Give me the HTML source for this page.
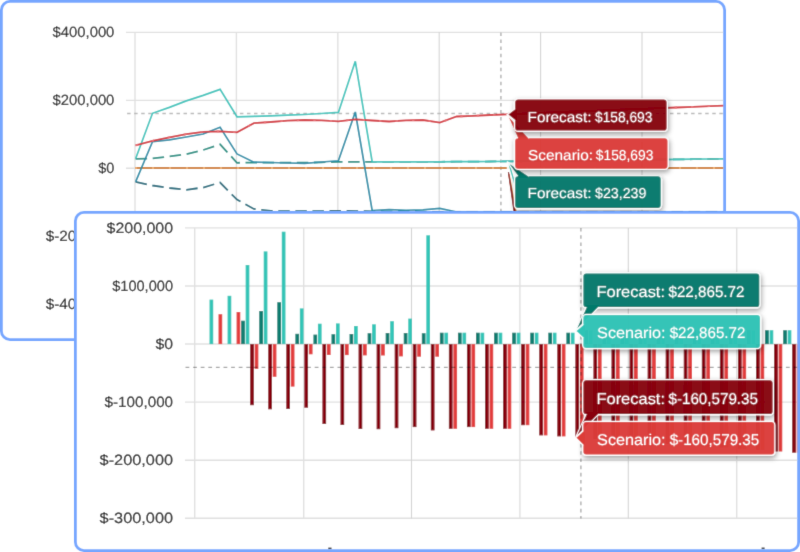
<!DOCTYPE html>
<html lang="en">
<head>
<meta charset="utf-8">
<title>Forecast vs Scenario</title>
<style>
html,body{margin:0;padding:0;background:#fff;}
body{width:800px;height:552px;position:relative;overflow:hidden;font-family:"Liberation Sans",sans-serif;}
.card{position:absolute;left:0;top:0;width:800px;height:552px;}
.card svg{position:absolute;left:0;top:0;display:block;}
text{font-family:"Liberation Sans",sans-serif;text-rendering:geometricPrecision;}
.tt text{fill:#fff;stroke:#fff;stroke-width:.1px;}
</style>
</head>
<body>

<div class="card" id="card1">
<svg width="800" height="552" viewBox="0 0 800 552">
<defs>
<clipPath id="card1-clip"><rect x="2.8" y="2.8" width="720.4" height="335.4" rx="7.2"/></clipPath>
<filter id="card1-sh" x="-20%" y="-40%" width="140%" height="200%"><feDropShadow dx="0.8" dy="2.2" stdDeviation="2.6" flood-color="#000" flood-opacity=".4"/></filter>
<filter id="card1-bl" x="0" y="0" width="800" height="552" filterUnits="userSpaceOnUse"><feConvolveMatrix order="3" kernelMatrix="0.0113 0.0838 0.0113 0.0838 0.6193 0.0838 0.0113 0.0838 0.0113" edgeMode="duplicate" preserveAlpha="false"/></filter>
</defs>
<g filter="url(#card1-bl)">
<rect x="1.4" y="1.4" width="723.2" height="338.2" rx="8.6" fill="#fff" stroke="#76a6ff" stroke-width="2.8"/>
<g clip-path="url(#card1-clip)">
<g stroke="#e0e0e0" stroke-width="1.4" fill="none">
<line x1="126" y1="32.4" x2="726" y2="32.4"/>
<line x1="126" y1="100.4" x2="726" y2="100.4"/>
<line x1="126" y1="168.2" x2="726" y2="168.2"/>
<line x1="126" y1="236.2" x2="726" y2="236.2"/>
<line x1="126" y1="304.2" x2="726" y2="304.2"/>
<line x1="135" y1="32" x2="135" y2="341"/>
<line x1="236.4" y1="32" x2="236.4" y2="341"/>
<line x1="337.8" y1="32" x2="337.8" y2="341"/>
<line x1="439.2" y1="32" x2="439.2" y2="341" stroke="#d4d4d4" stroke-width="1.1"/>
<line x1="540.6" y1="32" x2="540.6" y2="341" stroke="#d4d4d4" stroke-width="1.1"/>
<line x1="642" y1="32" x2="642" y2="341" stroke="#d4d4d4" stroke-width="1.1"/>
</g>
<g fill="#222" stroke="#222" stroke-width=".15">
<text transform="translate(52.54 37) scale(1.0018 1.0000)" font-size="14.8" xml:space="preserve">$400,000</text>
<text transform="translate(52.54 105) scale(1.0018 1.0000)" font-size="14.8" xml:space="preserve">$200,000</text>
<text transform="translate(98.24 172.8) scale(0.9793 1.0000)" font-size="14.8" xml:space="preserve">$0</text>
<text transform="translate(45.64 240.8) scale(1.0315 1.0000)" font-size="14.8" xml:space="preserve">$-200,000</text>
<text transform="translate(45.64 308.8) scale(1.0315 1.0000)" font-size="14.8" xml:space="preserve">$-400,000</text>
</g>
<g stroke="#b9b9b9" stroke-width="1.6" fill="none" stroke-dasharray="3.5 3.55">
<line x1="127.1" y1="113.5" x2="726" y2="113.5"/>
<line x1="500.9" y1="32.5" x2="500.9" y2="341"/>
</g>
<path d="M135 168.1 L726 168.1" fill="none" stroke="#d1832f" stroke-width="2"/>
<path d="M135 168.1 L726 168.1" fill="none" stroke="#eaa860" stroke-width="2" stroke-dasharray="2 15"/>
<g fill="none" stroke-linejoin="miter" stroke-linecap="butt">
<path d="M135.6 181.8 L152.5 185.5 L169.4 188 L186.3 189.8 L203.2 187.5 L220.1 182.5 L237 199.6 L253.9 209 L270.8 210.9 L287.7 211.2 L304.6 211.2 L321.5 211.1 L338.4 210.9 L355.3 211.1 L372.2 211.3 L389.1 211.8 L406 211.8 L422.9 211.8 L439.8 211.8 L456.7 211.8 L473.6 211.8 L490.5 211.8 L507.4 211.8 L524.3 211.8 L541.2 211.8 L558.1 211.8 L575 211.8 L591.9 211.8 L608.8 211.8 L625.7 211.8 L642.6 211.8 L659.5 211.8 L676.4 211.8 L693.3 211.8 L710.2 211.8 L727.1 211.8" stroke="#1a6b7c" stroke-width="1.8" stroke-dasharray="11.5 5.6"/>
<path d="M135.6 158.8 L152.5 158.5 L169.4 156.4 L186.3 154.2 L203.2 150 L220.1 144.4 L237 162.8 L253.9 162.6 L270.8 162.6 L287.7 162.7 L304.6 162.7 L321.5 162.3 L338.4 161.9 L355.3 161.9 L372.2 161.9 L389.1 161.9 L406 161.9 L422.9 161.8 L439.8 161.8 L456.7 161.7 L473.6 161.6 L490.5 161.5 L507.4 161.4 L524.3 161.2 L541.2 161 L558.1 160.8 L575 160.6 L591.9 160.4 L608.8 160.2 L625.7 160 L642.6 159.8 L659.5 159.6 L676.4 159.4 L693.3 159.2 L710.2 159 L727.1 158.8" stroke="#1f9083" stroke-width="1.8" stroke-dasharray="11.5 5.6"/>
<path d="M135.6 181.8 L152.5 141.7 L169.4 139.8 L186.3 137 L203.2 134 L220.1 127.3 L237 153.9 L253.9 162.2 L270.8 162.5 L287.7 163 L304.6 163.3 L321.5 162 L338.4 160.8 L355.3 112 L372.2 210.7 L389.1 209.6 L406 210.4 L422.9 209.9 L439.8 208.3 L456.7 212.2 L473.6 212.5 L490.5 212.5 L507.4 212.5 L524.3 212.5 L541.2 212.5 L558.1 212.5 L575 212.5 L591.9 212.5 L608.8 212.5 L625.7 212.5 L642.6 212.5 L659.5 212.5 L676.4 212.5 L693.3 212.5 L710.2 212.5 L727.1 212.5" stroke="#268ea8" stroke-width="1.7"/>
<path d="M135.6 158.8 L152.5 113.3 L169.4 107.4 L186.3 100.9 L203.2 95.4 L220.1 89.4 L237 116.8 L253.9 116.3 L270.8 115.8 L287.7 115.2 L304.6 114.5 L321.5 113.5 L338.4 112.4 L355.3 61.3 L372.2 161.9 L389.1 161.9 L406 161.9 L422.9 161.8 L439.8 161.8 L456.7 161.7 L473.6 161.6 L490.5 161.5 L507.4 161.4 L524.3 161.2 L541.2 161 L558.1 160.8 L575 160.6 L591.9 160.4 L608.8 160.2 L625.7 160 L642.6 159.8 L659.5 159.6 L676.4 159.4 L693.3 159.2 L710.2 159 L727.1 158.8" stroke="#3cc4bc" stroke-width="1.7"/>
<path d="M135.6 145.3 L152.5 140.8 L169.4 137.3 L186.3 134.2 L203.2 131.8 L220.1 131.3 L237 132.3 L253.9 123.1 L270.8 122 L287.7 120.6 L304.6 120 L321.5 120.3 L338.4 121.3 L355.3 119.3 L372.2 120.5 L389.1 121.5 L406 120.3 L422.9 120 L439.8 122.6 L456.7 116.5 L473.6 115.8 L490.5 115 L507.4 114.3 L524.3 113.6 L541.2 112.9 L558.1 112.2 L575 111.5 L591.9 110.8 L608.8 110.1 L625.7 109.4 L642.6 108.8 L659.5 108.2 L676.4 107.5 L693.3 106.8 L710.2 106.1 L727.1 105.4" stroke="#d3343c" stroke-width="1.8"/>
<path d="M135.6 145.3 L152.5 140.8 L169.4 137.3 L186.3 134.2 L203.2 131.8 L220.1 131.3 L237 132.3 L253.9 123.1 L270.8 122 L287.7 120.6 L304.6 120 L321.5 120.3 L338.4 121.3 L355.3 119.3 L372.2 120.5 L389.1 121.5 L406 120.3 L422.9 120 L439.8 122.6 L456.7 116.5 L473.6 115.8 L490.5 115 L507.4 114.3 L524.3 113.6 L541.2 112.9 L558.1 112.2 L575 111.5 L591.9 110.8 L608.8 110.1 L625.7 109.4 L642.6 108.8 L659.5 108.2 L676.4 107.5 L693.3 106.8 L710.2 106.1 L727.1 105.4" stroke="#e5686e" stroke-width="1.8" stroke-dasharray="2.5 14"/>
</g>
<polygon points="506.4,162.6 515.6,163.2 515.6,212 512.6,212 507.2,176" fill="#fff" fill-opacity=".93"/>
<polygon points="508.6,164.4 509.9,164.4 515.6,184.5 515.6,189" fill="#30c5b7"/>
<polygon points="508.2,174 509.6,174 516.8,212 514.2,212" fill="#d3873a"/>
<polygon points="507.9,172 509,172 515.6,212 513.6,212" fill="#85000f"/>
<g class="tt">
<rect x="514.5" y="175.6" width="146.9" height="33.1" rx="3.6" fill="#00796b" fill-opacity=".95" stroke="#fff" stroke-opacity=".95" stroke-width="1.4" filter="url(#card1-sh)"/>
<text transform="translate(527.54 198.3) scale(1.0731 1.0000)" font-size="14.3" xml:space="preserve">Forecast: </text>
<text transform="translate(595.05 198.3) scale(0.9929 1.0000)" font-size="14.3" xml:space="preserve">$23,239</text>
</g>
<polygon points="507,161.6 517.6,176.2 517.6,177.7 529.2,177.7 529.2,176.2" fill="#00796b"/><polyline points="517.6,176.2 507,161.6 529.2,176.2" fill="none" stroke="#fff" stroke-opacity=".95" stroke-width="1.3" stroke-linejoin="miter"/>
<g class="tt">
<rect x="514.5" y="137.5" width="153.7" height="31.9" rx="3.6" fill="#dc3d39" fill-opacity=".95" stroke="#fff" stroke-opacity=".95" stroke-width="1.4" filter="url(#card1-sh)"/>
<text transform="translate(528.1 160.1) scale(1.0743 1.0000)" font-size="14.3" xml:space="preserve">Scenario: </text>
<text transform="translate(595.85 160.1) scale(0.9633 1.0000)" font-size="14.3" xml:space="preserve">$158,693</text>
</g>
<polygon points="506.9,114.3 517.6,138.2 517.6,139.7 529.2,139.7 529.2,138.2" fill="#dc3d39"/><polyline points="517.6,138.2 506.9,114.3 529.2,138.2" fill="none" stroke="#fff" stroke-opacity=".95" stroke-width="1.3" stroke-linejoin="miter"/>
<g class="tt">
<rect x="514.5" y="98.9" width="152.8" height="32.4" rx="3.6" fill="#88000d" fill-opacity=".95" stroke="#fff" stroke-opacity=".95" stroke-width="1.4" filter="url(#card1-sh)"/>
<text transform="translate(527.54 121.7) scale(1.0731 1.0000)" font-size="14.3" xml:space="preserve">Forecast: </text>
<text transform="translate(595.05 121.7) scale(0.9599 1.0000)" font-size="14.3" xml:space="preserve">$158,693</text>
</g>
<polygon points="507.4,114.5 515.2,108.6 516.7,108.6 516.7,120.8 515.2,120.8" fill="#88000d"/><polyline points="515.2,108.6 507.4,114.5 515.2,120.8" fill="none" stroke="#fff" stroke-opacity=".95" stroke-width="1.3" stroke-linejoin="miter"/>
</g>
</g>
</svg>
</div>
<div class="card" id="card2">
<svg width="800" height="552" viewBox="0 0 800 552">
<defs>
<clipPath id="card2-clip"><rect x="76.8" y="213.8" width="720.4" height="335.4" rx="7.2"/></clipPath>
<filter id="card2-sh" x="-20%" y="-40%" width="140%" height="200%"><feDropShadow dx="0.8" dy="2.2" stdDeviation="2.6" flood-color="#000" flood-opacity=".4"/></filter>
<filter id="card2-bl" x="0" y="0" width="800" height="552" filterUnits="userSpaceOnUse"><feConvolveMatrix order="3" kernelMatrix="0.0113 0.0838 0.0113 0.0838 0.6193 0.0838 0.0113 0.0838 0.0113" edgeMode="duplicate" preserveAlpha="false"/></filter>
</defs>
<g filter="url(#card2-bl)">
<rect x="75.4" y="212.4" width="723.2" height="338.2" rx="8.6" fill="#fff" stroke="#76a6ff" stroke-width="2.8"/>
<g clip-path="url(#card2-clip)">
<g stroke="#e0e0e0" stroke-width="1.4" fill="none">
<line x1="185" y1="227.9" x2="800" y2="227.9"/>
<line x1="185" y1="285.98" x2="800" y2="285.98"/>
<line x1="185" y1="344.06" x2="800" y2="344.06"/>
<line x1="185" y1="402.14" x2="800" y2="402.14"/>
<line x1="185" y1="460.22" x2="800" y2="460.22"/>
<line x1="185" y1="518.3" x2="800" y2="518.3"/>
<line x1="194.7" y1="227.9" x2="194.7" y2="518.4"/>
<line x1="303.7" y1="227.9" x2="303.7" y2="518.4"/>
<line x1="411.5" y1="227.9" x2="411.5" y2="518.4" stroke="#d4d4d4" stroke-width="1.1"/>
<line x1="519.9" y1="227.9" x2="519.9" y2="518.4"/>
<line x1="628.3" y1="227.9" x2="628.3" y2="518.4" stroke="#d4d4d4" stroke-width="1.1"/>
<line x1="736.7" y1="227.9" x2="736.7" y2="518.4"/>
</g>
<g fill="#222" stroke="#222" stroke-width=".15">
<text transform="translate(106.53 232.9) scale(1.0716 1.0000)" font-size="14.9" xml:space="preserve">$200,000</text>
<text transform="translate(112.14 290.98) scale(0.9804 1.0000)" font-size="14.9" xml:space="preserve">$100,000</text>
<text transform="translate(155.53 349.06) scale(1.0612 1.0000)" font-size="14.9" xml:space="preserve">$0</text>
<text transform="translate(104.54 407.14) scale(1.0216 1.0000)" font-size="14.9" xml:space="preserve">$-100,000</text>
<text transform="translate(99.62 465.22) scale(1.0954 1.0000)" font-size="14.9" xml:space="preserve">$-200,000</text>
<text transform="translate(99.62 523.3) scale(1.0954 1.0000)" font-size="14.9" xml:space="preserve">$-300,000</text>
</g>
<rect x="328.3" y="547.6" width="3.2" height="1.6" fill="#333"/>
<rect x="761.6" y="547.5" width="3" height="1.7" fill="#444"/>
<g fill="#0e7b6f">
<rect x="241.15" y="320.7" width="3.7" height="23.4"/>
<rect x="259.22" y="311" width="3.7" height="33.1"/>
<rect x="277.28" y="302.2" width="3.7" height="41.9"/>
<rect x="295.35" y="333.8" width="3.7" height="10.3"/>
<rect x="313.42" y="334.6" width="3.7" height="9.5"/>
<rect x="331.48" y="334.2" width="3.7" height="9.9"/>
<rect x="349.55" y="334" width="3.7" height="10.1"/>
<rect x="367.62" y="333.2" width="3.7" height="10.9"/>
<rect x="385.68" y="333" width="3.7" height="11.1"/>
<rect x="403.75" y="333" width="3.7" height="11.1"/>
<rect x="421.82" y="333.2" width="3.7" height="10.9"/>
<rect x="439.88" y="332.7" width="3.7" height="11.4"/>
<rect x="457.95" y="332.7" width="3.7" height="11.4"/>
<rect x="476.02" y="332.7" width="3.7" height="11.4"/>
<rect x="494.08" y="332.7" width="3.7" height="11.4"/>
<rect x="512.15" y="332.7" width="3.7" height="11.4"/>
<rect x="530.22" y="332.7" width="3.7" height="11.4"/>
<rect x="548.28" y="332.7" width="3.7" height="11.4"/>
<rect x="566.35" y="332.7" width="3.7" height="11.4"/>
<rect x="584.42" y="330.2" width="3.7" height="13.9"/>
<rect x="602.48" y="330.2" width="3.7" height="13.9"/>
<rect x="620.55" y="330.2" width="3.7" height="13.9"/>
<rect x="638.62" y="330.2" width="3.7" height="13.9"/>
<rect x="656.68" y="330.2" width="3.7" height="13.9"/>
<rect x="674.75" y="330.2" width="3.7" height="13.9"/>
<rect x="692.82" y="330.2" width="3.7" height="13.9"/>
<rect x="710.88" y="330.2" width="3.7" height="13.9"/>
<rect x="728.95" y="330.2" width="3.7" height="13.9"/>
<rect x="747.02" y="330.2" width="3.7" height="13.9"/>
<rect x="765.08" y="330.2" width="3.7" height="13.9"/>
<rect x="783.15" y="330.2" width="3.7" height="13.9"/>
<rect x="801.22" y="330.2" width="3.7" height="13.9"/>
</g>
<g fill="#30c5b7">
<rect x="209.52" y="299.6" width="3.7" height="44.5"/>
<rect x="227.58" y="295.8" width="3.7" height="48.3"/>
<rect x="245.65" y="265" width="3.7" height="79.1"/>
<rect x="263.72" y="251.4" width="3.7" height="92.7"/>
<rect x="281.78" y="231.7" width="3.7" height="112.4"/>
<rect x="299.85" y="308.4" width="3.7" height="35.7"/>
<rect x="317.92" y="323.7" width="3.7" height="20.4"/>
<rect x="335.98" y="323.4" width="3.7" height="20.7"/>
<rect x="354.05" y="326" width="3.7" height="18.1"/>
<rect x="372.12" y="324.3" width="3.7" height="19.8"/>
<rect x="390.18" y="321.2" width="3.7" height="22.9"/>
<rect x="408.25" y="318.6" width="3.7" height="25.5"/>
<rect x="426.32" y="235.3" width="3.7" height="108.8"/>
<rect x="444.38" y="332.7" width="3.7" height="11.4"/>
<rect x="462.45" y="332.7" width="3.7" height="11.4"/>
<rect x="480.52" y="332.7" width="3.7" height="11.4"/>
<rect x="498.58" y="332.7" width="3.7" height="11.4"/>
<rect x="516.65" y="332.7" width="3.7" height="11.4"/>
<rect x="534.72" y="332.7" width="3.7" height="11.4"/>
<rect x="552.78" y="332.7" width="3.7" height="11.4"/>
<rect x="570.85" y="332.7" width="3.7" height="11.4"/>
<rect x="588.92" y="330.2" width="3.7" height="13.9"/>
<rect x="606.98" y="330.2" width="3.7" height="13.9"/>
<rect x="625.05" y="330.2" width="3.7" height="13.9"/>
<rect x="643.12" y="330.2" width="3.7" height="13.9"/>
<rect x="661.18" y="330.2" width="3.7" height="13.9"/>
<rect x="679.25" y="330.2" width="3.7" height="13.9"/>
<rect x="697.32" y="330.2" width="3.7" height="13.9"/>
<rect x="715.38" y="330.2" width="3.7" height="13.9"/>
<rect x="733.45" y="330.2" width="3.7" height="13.9"/>
<rect x="751.52" y="330.2" width="3.7" height="13.9"/>
<rect x="769.58" y="330.2" width="3.7" height="13.9"/>
<rect x="787.65" y="330.2" width="3.7" height="13.9"/>
<rect x="805.72" y="330.2" width="3.7" height="13.9"/>
</g>
<g fill="#85000f">
<rect x="250.15" y="344.1" width="3.7" height="61.1"/>
<rect x="268.22" y="344.1" width="3.7" height="65.2"/>
<rect x="286.28" y="344.1" width="3.7" height="64.9"/>
<rect x="304.35" y="344.1" width="3.7" height="63.6"/>
<rect x="322.42" y="344.1" width="3.7" height="79.9"/>
<rect x="340.48" y="344.1" width="3.7" height="80.9"/>
<rect x="358.55" y="344.1" width="3.7" height="84.9"/>
<rect x="376.62" y="344.1" width="3.7" height="85.1"/>
<rect x="394.68" y="344.1" width="3.7" height="84.1"/>
<rect x="412.75" y="344.1" width="3.7" height="83"/>
<rect x="430.82" y="344.1" width="3.7" height="86.3"/>
<rect x="448.88" y="344.1" width="3.7" height="84.7"/>
<rect x="466.95" y="344.1" width="3.7" height="83"/>
<rect x="485.02" y="344.1" width="3.7" height="84.7"/>
<rect x="503.08" y="344.1" width="3.7" height="84.7"/>
<rect x="521.15" y="344.1" width="3.7" height="81.1"/>
<rect x="539.22" y="344.1" width="3.7" height="91.3"/>
<rect x="557.28" y="344.1" width="3.7" height="92.3"/>
<rect x="575.35" y="344.1" width="3.7" height="93.5"/>
<rect x="593.42" y="344.1" width="3.7" height="94.9"/>
<rect x="611.48" y="344.1" width="3.7" height="96.1"/>
<rect x="629.55" y="344.1" width="3.7" height="97.3"/>
<rect x="647.62" y="344.1" width="3.7" height="98.5"/>
<rect x="665.68" y="344.1" width="3.7" height="99.7"/>
<rect x="683.75" y="344.1" width="3.7" height="100.9"/>
<rect x="701.82" y="344.1" width="3.7" height="102.1"/>
<rect x="719.88" y="344.1" width="3.7" height="103.3"/>
<rect x="737.95" y="344.1" width="3.7" height="104.5"/>
<rect x="756.02" y="344.1" width="3.7" height="105.7"/>
<rect x="774.08" y="344.1" width="3.7" height="107.4"/>
<rect x="792.15" y="344.1" width="3.7" height="108.6"/>
<rect x="810.22" y="344.1" width="3.7" height="108.9"/>
</g>
<g fill="#e23c3c">
<rect x="218.52" y="314.2" width="3.7" height="29.9"/>
<rect x="236.58" y="312" width="3.7" height="32.1"/>
<rect x="254.65" y="344.1" width="3.7" height="24.8"/>
<rect x="272.72" y="344.1" width="3.7" height="32.7"/>
<rect x="290.78" y="344.1" width="3.7" height="42.5"/>
<rect x="308.85" y="344.1" width="3.7" height="10.2"/>
<rect x="326.92" y="344.1" width="3.7" height="10.9"/>
<rect x="344.98" y="344.1" width="3.7" height="11"/>
<rect x="363.05" y="344.1" width="3.7" height="11.3"/>
<rect x="381.12" y="344.1" width="3.7" height="11.4"/>
<rect x="399.18" y="344.1" width="3.7" height="12.3"/>
<rect x="417.25" y="344.1" width="3.7" height="12.6"/>
<rect x="435.32" y="344.1" width="3.7" height="12.6"/>
<rect x="453.38" y="344.1" width="3.7" height="84.7"/>
<rect x="471.45" y="344.1" width="3.7" height="83"/>
<rect x="489.52" y="344.1" width="3.7" height="84.7"/>
<rect x="507.58" y="344.1" width="3.7" height="84.7"/>
<rect x="525.65" y="344.1" width="3.7" height="81.1"/>
<rect x="543.72" y="344.1" width="3.7" height="91.3"/>
<rect x="561.78" y="344.1" width="3.7" height="92.3"/>
<rect x="579.85" y="344.1" width="3.7" height="93.5"/>
<rect x="597.92" y="344.1" width="3.7" height="94.9"/>
<rect x="615.98" y="344.1" width="3.7" height="96.1"/>
<rect x="634.05" y="344.1" width="3.7" height="97.3"/>
<rect x="652.12" y="344.1" width="3.7" height="98.5"/>
<rect x="670.18" y="344.1" width="3.7" height="99.7"/>
<rect x="688.25" y="344.1" width="3.7" height="100.9"/>
<rect x="706.32" y="344.1" width="3.7" height="102.1"/>
<rect x="724.38" y="344.1" width="3.7" height="103.3"/>
<rect x="742.45" y="344.1" width="3.7" height="104.5"/>
<rect x="760.52" y="344.1" width="3.7" height="105.7"/>
<rect x="778.58" y="344.1" width="3.7" height="107.4"/>
<rect x="796.65" y="344.1" width="3.7" height="108.6"/>
<rect x="814.72" y="344.1" width="3.7" height="108.9"/>
</g>
<g stroke="#000" stroke-opacity=".36" stroke-width="1.25" fill="none" stroke-dasharray="3.8 3.8">
<line x1="185.5" y1="367.3" x2="800" y2="367.3"/>
<line x1="580.9" y1="228" x2="580.9" y2="518.4" stroke-dasharray="3.6 3.6"/>
</g>
<g class="tt">
<rect x="582.7" y="272.7" width="177.3" height="35.1" rx="3.6" fill="#00796b" fill-opacity=".95" stroke="#fff" stroke-opacity=".95" stroke-width="1.4" filter="url(#card2-sh)"/>
<text transform="translate(596.45 297.1) scale(1.0611 1.0000)" font-size="15.5" xml:space="preserve">Forecast: </text>
<text transform="translate(668.44 297.1) scale(0.9800 1.0000)" font-size="15.5" xml:space="preserve">$22,865.72</text>
</g>
<polygon points="575.3,331.2 586.2,307.1 586.2,305.6 598.8,305.6 598.8,307.1" fill="#00796b"/><polyline points="586.2,307.1 575.3,331.2 598.8,307.1" fill="none" stroke="#fff" stroke-opacity=".95" stroke-width="1.3" stroke-linejoin="miter"/>
<g class="tt">
<rect x="582.7" y="314.4" width="178" height="34.2" rx="3.6" fill="#2ec4b6" fill-opacity=".95" stroke="#fff" stroke-opacity=".95" stroke-width="1.4" filter="url(#card2-sh)"/>
<text transform="translate(597.06 338.2) scale(1.0464 1.0000)" font-size="15.5" xml:space="preserve">Scenario: </text>
<text transform="translate(669.64 338.2) scale(0.9761 1.0000)" font-size="15.5" xml:space="preserve">$22,865.72</text>
</g>
<polygon points="575.6,331.1 583.4,324.2 584.9,324.2 584.9,338.2 583.4,338.2" fill="#2ec4b6"/><polyline points="583.4,324.2 575.6,331.1 583.4,338.2" fill="none" stroke="#fff" stroke-opacity=".95" stroke-width="1.3" stroke-linejoin="miter"/>
<g class="tt">
<rect x="582.7" y="379.6" width="190.6" height="35.2" rx="3.6" fill="#88000d" fill-opacity=".95" stroke="#fff" stroke-opacity=".95" stroke-width="1.4" filter="url(#card2-sh)"/>
<text transform="translate(596.45 404.3) scale(1.0611 1.0000)" font-size="15.5" xml:space="preserve">Forecast: </text>
<text transform="translate(668.44 404.3) scale(0.9797 1.0000)" font-size="15.5" xml:space="preserve">$-160,579.35</text>
</g>
<polygon points="575.4,437.7 586.2,414.1 586.2,412.6 598.8,412.6 598.8,414.1" fill="#88000d"/><polyline points="586.2,414.1 575.4,437.7 598.8,414.1" fill="none" stroke="#fff" stroke-opacity=".95" stroke-width="1.3" stroke-linejoin="miter"/>
<g class="tt">
<rect x="582.7" y="421.4" width="192.2" height="33.8" rx="3.6" fill="#dc3d39" fill-opacity=".95" stroke="#fff" stroke-opacity=".95" stroke-width="1.4" filter="url(#card2-sh)"/>
<text transform="translate(597.06 445.1) scale(1.0464 1.0000)" font-size="15.5" xml:space="preserve">Scenario: </text>
<text transform="translate(669.64 445.1) scale(0.9808 1.0000)" font-size="15.5" xml:space="preserve">$-160,579.35</text>
</g>
<polygon points="575.6,437.8 583.4,430.5 584.9,430.5 584.9,445.5 583.4,445.5" fill="#dc3d39"/><polyline points="583.4,430.5 575.6,437.8 583.4,445.5" fill="none" stroke="#fff" stroke-opacity=".95" stroke-width="1.3" stroke-linejoin="miter"/>
</g>
</g>
</svg>
</div>
</body>
</html>
